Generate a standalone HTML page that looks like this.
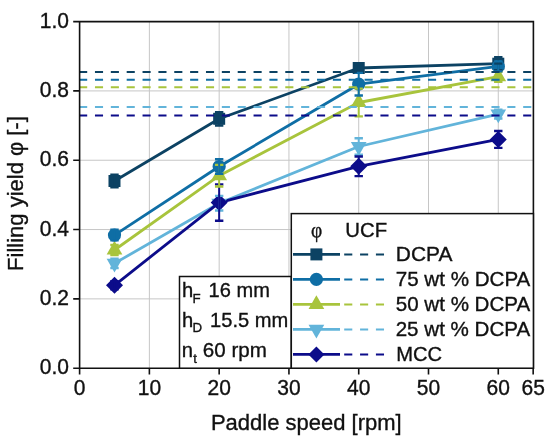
<!DOCTYPE html><html><head><meta charset="utf-8"><title>Filling yield chart</title><style>html,body{margin:0;padding:0;background:#fff;width:550px;height:441px;overflow:hidden}text{stroke:#111;stroke-width:0.35px}</style></head><body><svg width="550" height="441" viewBox="0 0 550 441" style="display:block;font-family:'Liberation Sans',Arial,sans-serif">
<rect width="550" height="441" fill="#fff"/>
<path d="M149.38,21.6V368.2M219.16,21.6V368.2M288.94,21.6V368.2M358.72,21.6V368.2M428.50,21.6V368.2M498.28,21.6V368.2M79.6,298.88H533.4M79.6,229.56H533.4M79.6,160.24H533.4M79.6,90.92H533.4" stroke="#c6c6c6" stroke-width="1" fill="none"/>
<polyline points="114.49,263.40 219.16,203.20 358.72,146.50 498.28,114.10" stroke="#62b4da" stroke-width="2.8" fill="none" stroke-linejoin="round"/>
<polyline points="114.49,285.30 219.16,202.60 358.72,166.30 498.28,139.45" stroke="#0c0c8a" stroke-width="2.8" fill="none" stroke-linejoin="round"/>
<polyline points="114.49,250.00 219.16,175.70 358.72,102.50 498.28,76.70" stroke="#a8c43c" stroke-width="2.8" fill="none" stroke-linejoin="round"/>
<polyline points="114.49,181.00 219.16,118.80 358.72,68.00 498.28,63.70" stroke="#0c4263" stroke-width="2.8" fill="none" stroke-linejoin="round"/>
<polyline points="114.49,235.10 219.16,166.50 358.72,84.20 498.28,66.40" stroke="#0f6ea5" stroke-width="2.8" fill="none" stroke-linejoin="round"/>
<polygon points="114.49,272.53 122.34,258.83 106.64,258.83" fill="#62b4da"/>
<polygon points="219.16,212.33 227.01,198.63 211.31,198.63" fill="#62b4da"/>
<polygon points="358.72,155.63 366.57,141.93 350.87,141.93" fill="#62b4da"/>
<polygon points="498.28,123.23 506.13,109.53 490.43,109.53" fill="#62b4da"/>
<polygon points="114.49,276.80 122.99,285.30 114.49,293.80 105.99,285.30" fill="#0c0c8a"/>
<polygon points="219.16,194.10 227.66,202.60 219.16,211.10 210.66,202.60" fill="#0c0c8a"/>
<polygon points="358.72,157.80 367.22,166.30 358.72,174.80 350.22,166.30" fill="#0c0c8a"/>
<polygon points="498.28,130.95 506.78,139.45 498.28,147.95 489.78,139.45" fill="#0c0c8a"/>
<polygon points="114.49,240.87 122.34,254.57 106.64,254.57" fill="#a8c43c"/>
<polygon points="219.16,166.57 227.01,180.27 211.31,180.27" fill="#a8c43c"/>
<polygon points="358.72,93.37 366.57,107.07 350.87,107.07" fill="#a8c43c"/>
<polygon points="498.28,67.57 506.13,81.27 490.43,81.27" fill="#a8c43c"/>
<rect x="108.49" y="175.00" width="12" height="12" fill="#0c4263"/>
<rect x="213.16" y="112.80" width="12" height="12" fill="#0c4263"/>
<rect x="352.72" y="62.00" width="12" height="12" fill="#0c4263"/>
<rect x="492.28" y="57.70" width="12" height="12" fill="#0c4263"/>
<circle cx="114.49" cy="235.10" r="6.6" fill="#0f6ea5"/>
<circle cx="219.16" cy="166.50" r="6.6" fill="#0f6ea5"/>
<circle cx="358.72" cy="84.20" r="6.6" fill="#0f6ea5"/>
<circle cx="498.28" cy="66.40" r="6.6" fill="#0f6ea5"/>
<path d="M114.49,258.80V268.00" stroke="#62b4da" stroke-width="2" fill="none"/><path d="M110.29,258.80H118.69M110.29,268.00H118.69" stroke="#62b4da" stroke-width="2.4" fill="none"/>
<path d="M219.16,195.90V210.50" stroke="#62b4da" stroke-width="2" fill="none"/><path d="M214.96,195.90H223.36M214.96,210.50H223.36" stroke="#62b4da" stroke-width="2.4" fill="none"/>
<path d="M358.72,138.30V154.70" stroke="#62b4da" stroke-width="2" fill="none"/><path d="M354.52,138.30H362.92M354.52,154.70H362.92" stroke="#62b4da" stroke-width="2.4" fill="none"/>
<path d="M498.28,109.70V118.50" stroke="#62b4da" stroke-width="2" fill="none"/><path d="M494.08,109.70H502.48M494.08,118.50H502.48" stroke="#62b4da" stroke-width="2.4" fill="none"/>
<path d="M114.49,281.30V289.30" stroke="#0c0c8a" stroke-width="2" fill="none"/><path d="M110.29,281.30H118.69M110.29,289.30H118.69" stroke="#0c0c8a" stroke-width="2.4" fill="none"/>
<path d="M219.16,184.40V220.80" stroke="#0c0c8a" stroke-width="2" fill="none"/><path d="M214.96,184.40H223.36M214.96,220.80H223.36" stroke="#0c0c8a" stroke-width="2.4" fill="none"/>
<path d="M358.72,156.45V176.15" stroke="#0c0c8a" stroke-width="2" fill="none"/><path d="M354.52,156.45H362.92M354.52,176.15H362.92" stroke="#0c0c8a" stroke-width="2.4" fill="none"/>
<path d="M498.28,131.00V147.90" stroke="#0c0c8a" stroke-width="2" fill="none"/><path d="M494.08,131.00H502.48M494.08,147.90H502.48" stroke="#0c0c8a" stroke-width="2.4" fill="none"/>
<path d="M114.49,245.00V255.00" stroke="#a8c43c" stroke-width="2" fill="none"/><path d="M110.29,245.00H118.69M110.29,255.00H118.69" stroke="#a8c43c" stroke-width="2.4" fill="none"/>
<path d="M219.16,164.85V186.55" stroke="#a8c43c" stroke-width="2" fill="none"/><path d="M214.96,164.85H223.36M214.96,186.55H223.36" stroke="#a8c43c" stroke-width="2.4" fill="none"/>
<path d="M358.72,88.60V116.40" stroke="#a8c43c" stroke-width="2" fill="none"/><path d="M354.52,88.60H362.92M354.52,116.40H362.92" stroke="#a8c43c" stroke-width="2.4" fill="none"/>
<path d="M498.28,71.70V81.70" stroke="#a8c43c" stroke-width="2" fill="none"/><path d="M494.08,71.70H502.48M494.08,81.70H502.48" stroke="#a8c43c" stroke-width="2.4" fill="none"/>
<path d="M114.49,174.70V187.30" stroke="#0c4263" stroke-width="2" fill="none"/><path d="M110.29,174.70H118.69M110.29,187.30H118.69" stroke="#0c4263" stroke-width="2.4" fill="none"/>
<path d="M219.16,112.10V125.50" stroke="#0c4263" stroke-width="2" fill="none"/><path d="M214.96,112.10H223.36M214.96,125.50H223.36" stroke="#0c4263" stroke-width="2.4" fill="none"/>
<path d="M358.72,64.00V72.00" stroke="#0c4263" stroke-width="2" fill="none"/><path d="M354.52,64.00H362.92M354.52,72.00H362.92" stroke="#0c4263" stroke-width="2.4" fill="none"/>
<path d="M498.28,57.30V70.10" stroke="#0c4263" stroke-width="2" fill="none"/><path d="M494.08,57.30H502.48M494.08,70.10H502.48" stroke="#0c4263" stroke-width="2.4" fill="none"/>
<path d="M114.49,229.80V240.40" stroke="#0f6ea5" stroke-width="2" fill="none"/><path d="M110.29,229.80H118.69M110.29,240.40H118.69" stroke="#0f6ea5" stroke-width="2.4" fill="none"/>
<path d="M219.16,159.30V173.70" stroke="#0f6ea5" stroke-width="2" fill="none"/><path d="M214.96,159.30H223.36M214.96,173.70H223.36" stroke="#0f6ea5" stroke-width="2.4" fill="none"/>
<path d="M358.72,72.90V95.50" stroke="#0f6ea5" stroke-width="2" fill="none"/><path d="M354.52,72.90H362.92M354.52,95.50H362.92" stroke="#0f6ea5" stroke-width="2.4" fill="none"/>
<path d="M498.28,61.40V71.40" stroke="#0f6ea5" stroke-width="2" fill="none"/><path d="M494.08,61.40H502.48M494.08,71.40H502.48" stroke="#0f6ea5" stroke-width="2.4" fill="none"/>
<path d="M494.18,63.6H502.38" stroke="#0c4263" stroke-width="2.2"/>
<path d="M79.1,72.0H533.4" stroke="#0c4263" stroke-width="2.0" stroke-dasharray="8.1 7.76" fill="none"/>
<path d="M79.1,79.8H533.4" stroke="#0f6ea5" stroke-width="2.0" stroke-dasharray="8.1 7.76" fill="none"/>
<path d="M79.1,87.3H533.4" stroke="#a8c43c" stroke-width="2.0" stroke-dasharray="8.1 7.76" fill="none"/>
<path d="M79.1,107.1H533.4" stroke="#62b4da" stroke-width="2.0" stroke-dasharray="8.1 7.76" fill="none"/>
<path d="M79.1,115.6H533.4" stroke="#0c0c8a" stroke-width="2.0" stroke-dasharray="8.1 7.76" fill="none"/>
<path d="M79.6,21.6H533.4V368.2H79.6ZM73.20,368.20H79.6M73.20,298.88H79.6M73.20,229.56H79.6M73.20,160.24H79.6M73.20,90.92H79.6M73.20,21.60H79.6M79.60,368.2V374.50M149.38,368.2V374.50M219.16,368.2V374.50M288.94,368.2V374.50M358.72,368.2V374.50M428.50,368.2V374.50M498.28,368.2V374.50M533.17,368.2V374.50" stroke="#111" stroke-width="1.6" fill="none"/>
<text transform="translate(69.00,374.40) scale(1,1.04)" font-size="21" text-anchor="end" fill="#111">0.0</text>
<text transform="translate(69.00,305.08) scale(1,1.04)" font-size="21" text-anchor="end" fill="#111">0.2</text>
<text transform="translate(69.00,235.76) scale(1,1.04)" font-size="21" text-anchor="end" fill="#111">0.4</text>
<text transform="translate(69.00,166.44) scale(1,1.04)" font-size="21" text-anchor="end" fill="#111">0.6</text>
<text transform="translate(69.00,97.12) scale(1,1.04)" font-size="21" text-anchor="end" fill="#111">0.8</text>
<text transform="translate(69.00,27.80) scale(1,1.04)" font-size="21" text-anchor="end" fill="#111">1.0</text>
<text transform="translate(79.60,395.10) scale(1,1.04)" font-size="21" text-anchor="middle" fill="#111">0</text>
<text transform="translate(149.38,395.10) scale(1,1.04)" font-size="21" text-anchor="middle" fill="#111">10</text>
<text transform="translate(219.16,395.10) scale(1,1.04)" font-size="21" text-anchor="middle" fill="#111">20</text>
<text transform="translate(288.94,395.10) scale(1,1.04)" font-size="21" text-anchor="middle" fill="#111">30</text>
<text transform="translate(358.72,395.10) scale(1,1.04)" font-size="21" text-anchor="middle" fill="#111">40</text>
<text transform="translate(428.50,395.10) scale(1,1.04)" font-size="21" text-anchor="middle" fill="#111">50</text>
<text transform="translate(498.28,395.10) scale(1,1.04)" font-size="21" text-anchor="middle" fill="#111">60</text>
<text transform="translate(533.17,395.10) scale(1,1.04)" font-size="21" text-anchor="middle" fill="#111">65</text>
<text transform="translate(306.30,429.70) scale(1,1.04)" font-size="22" text-anchor="middle" fill="#111">Paddle speed [rpm]</text>
<text transform="translate(23,193.5) rotate(-90) scale(1,1.04)" font-size="22" text-anchor="middle" fill="#111">Filling yield φ [-]</text>
<rect x="179.5" y="276.5" width="111.80000000000001" height="91.69999999999999" fill="#fff" stroke="#111" stroke-width="1.5"/>
<text x="181.92" y="297.4" font-size="20.2" fill="#111">h</text>
<text x="192.58" y="303.0" font-size="13.3" fill="#111">F</text>
<text x="208.61" y="297.3" font-size="20.2" fill="#111" textLength="61.31" lengthAdjust="spacingAndGlyphs">16 mm</text>
<text x="181.92" y="327.0" font-size="20.2" fill="#111">h</text>
<text x="192.38" y="331.8" font-size="13.3" fill="#111">D</text>
<text x="210.11" y="327.1" font-size="20.2" fill="#111" textLength="78.18" lengthAdjust="spacingAndGlyphs">15.5 mm</text>
<text x="181.82" y="356.9" font-size="20.2" fill="#111">n</text>
<text x="193.35" y="362.5" font-size="13.3" fill="#111">t</text>
<text x="202.88" y="356.8" font-size="20.2" fill="#111" textLength="63.99" lengthAdjust="spacingAndGlyphs">60 rpm</text>
<rect x="291.3" y="213.6" width="242.09999999999997" height="154.6" fill="#fff" stroke="#111" stroke-width="1.5"/>
<text transform="translate(316.50,236.60) scale(1,1.04)" font-size="19.4" text-anchor="middle" fill="#111" font-family="Liberation Serif,serif">φ</text>
<text x="345.29" y="236.6" font-size="20.2" fill="#111" textLength="41.79" lengthAdjust="spacingAndGlyphs">UCF</text>
<text x="395.82" y="261.0" font-size="20.2" fill="#111" textLength="56.58" lengthAdjust="spacingAndGlyphs">DCPA</text>
<text x="395.78" y="285.9" font-size="20.2" fill="#111" textLength="134.54" lengthAdjust="spacingAndGlyphs">75 wt % DCPA</text>
<text x="395.81" y="310.85" font-size="20.2" fill="#111" textLength="134.41" lengthAdjust="spacingAndGlyphs">50 wt % DCPA</text>
<text x="395.68" y="335.8" font-size="20.2" fill="#111" textLength="134.54" lengthAdjust="spacingAndGlyphs">25 wt % DCPA</text>
<text x="396.28" y="360.7" font-size="20.2" fill="#111" textLength="45.85" lengthAdjust="spacingAndGlyphs">MCC</text>
<path d="M293,254.4H340" stroke="#0c4263" stroke-width="2.7"/>
<path d="M344.2,254.4H386" stroke="#0c4263" stroke-width="2.0" stroke-dasharray="8.1 7.76"/>
<rect x="310.40" y="248.40" width="12" height="12" fill="#0c4263"/>
<path d="M293,279.4H340" stroke="#0f6ea5" stroke-width="2.7"/>
<path d="M344.2,279.4H386" stroke="#0f6ea5" stroke-width="2.0" stroke-dasharray="8.1 7.76"/>
<circle cx="316.40" cy="279.40" r="6.6" fill="#0f6ea5"/>
<path d="M293,304.4H340" stroke="#a8c43c" stroke-width="2.7"/>
<path d="M344.2,304.4H386" stroke="#a8c43c" stroke-width="2.0" stroke-dasharray="8.1 7.76"/>
<polygon points="316.40,295.27 324.25,308.97 308.55,308.97" fill="#a8c43c"/>
<path d="M293,329.4H340" stroke="#62b4da" stroke-width="2.7"/>
<path d="M344.2,329.4H386" stroke="#62b4da" stroke-width="2.0" stroke-dasharray="8.1 7.76"/>
<polygon points="316.40,338.53 324.25,324.83 308.55,324.83" fill="#62b4da"/>
<path d="M293,354.4H340" stroke="#0c0c8a" stroke-width="2.7"/>
<path d="M344.2,354.4H386" stroke="#0c0c8a" stroke-width="2.0" stroke-dasharray="8.1 7.76"/>
<polygon points="316.40,346.40 324.40,354.40 316.40,362.40 308.40,354.40" fill="#0c0c8a"/>
</svg></body></html>
